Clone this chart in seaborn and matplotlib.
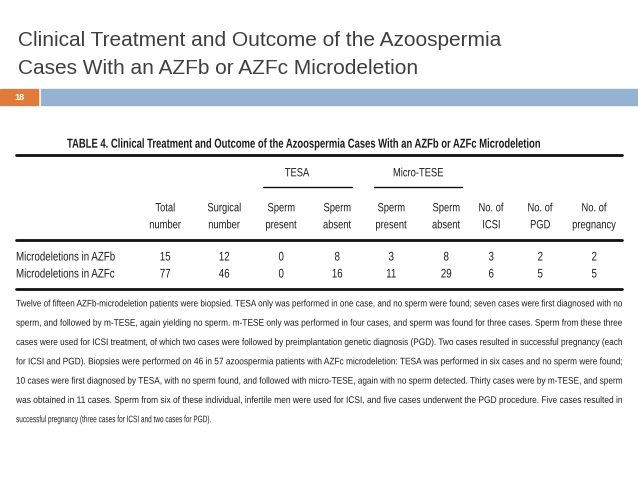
import matplotlib
matplotlib.use('Agg')
import matplotlib.pyplot as plt
import seaborn as sns
from matplotlib.patches import Rectangle, PathPatch
from matplotlib.textpath import TextPath
from matplotlib.font_manager import FontProperties
from matplotlib.transforms import Affine2D

sns.set_theme(style="white")
plt.rcParams['font.family'] = ['Liberation Sans', 'DejaVu Sans']

slide_title = ["Clinical Treatment and Outcome of the Azoospermia",
               "Cases With an AZFb or AZFc Microdeletion"]
table_caption = "TABLE 4. Clinical Treatment and Outcome of the Azoospermia Cases With an AZFb or AZFc Microdeletion"
col_headers = [("Total", "number"), ("Surgical", "number"), ("Sperm", "present"), ("Sperm", "absent"),
               ("Sperm", "present"), ("Sperm", "absent"), ("No. of", "ICSI"), ("No. of", "PGD"),
               ("No. of", "pregnancy")]
row_labels = ["Microdeletions in AZFb", "Microdeletions in AZFc"]
azfb = [15, 12, 0, 8, 3, 8, 3, 2, 2]
azfc = [77, 46, 0, 16, 11, 29, 6, 5, 5]
footnote = [
    "Twelve of fifteen AZFb-microdeletion patients were biopsied. TESA only was performed in one case, and no sperm were found; seven cases were first diagnosed with no",
    "sperm, and followed by m-TESE, again yielding no sperm. m-TESE only was performed in four cases, and sperm was found for three cases. Sperm from these three",
    "cases were used for ICSI treatment, of which two cases were followed by preimplantation genetic diagnosis (PGD). Two cases resulted in successful pregnancy (each",
    "for ICSI and PGD). Biopsies were performed on 46 in 57 azoospermia patients with AZFc microdeletion: TESA was performed in six cases and no sperm were found;",
    "10 cases were first diagnosed by TESA, with no sperm found, and followed with micro-TESE, again with no sperm detected. Thirty cases were by m-TESE, and sperm",
    "was obtained in 11 cases. Sperm from six of these individual, infertile men were used for ICSI, and five cases underwent the PGD procedure. Five cases resulted in",
    "successful pregnancy (three cases for ICSI and two cases for PGD).",
]

col_x = [165, 224, 281, 337, 391, 446, 491, 540, 594]
INK = '#1e1e1e'

fig = plt.figure(figsize=(6.38, 4.78), dpi=100)
ax = fig.add_axes([0, 0, 1, 1])
ax.set_xlim(0, 638)
ax.set_ylim(478, 0)
ax.axis('off')


def narrow(x, y, s, size, xscale=0.78, width=None, ha='left', weight='normal'):
    # condensed text drawn as a path, y is the vertical centre in pixels
    tp = TextPath((0, 0), s, size=size, prop=FontProperties(family='Liberation Sans', weight=weight))
    w = tp.get_extents().x1
    sx = width / w if width else xscale
    if ha == 'center':
        x = x - w * sx / 2
    tr = Affine2D().scale(sx, -1).translate(x, y + size * 0.36)
    ax.add_patch(PathPatch(tr.transform_path(tp), color=INK, lw=0))


# slide header
for i, line in enumerate(slide_title):
    ax.text(18, 40 + i * 28, line, fontsize=15, color='#3f3f3f', va='center')
ax.add_patch(Rectangle((0, 89), 38, 16, color='#e07b39'))
ax.add_patch(Rectangle((41, 89), 597, 16, color='#94b3d3'))
ax.text(19, 97, "18", color='white', fontsize=6.5, fontweight='bold', ha='center', va='center')

# table
narrow(67, 143, table_caption, 13, width=473, weight='bold')
ax.plot([16, 622], [155, 155], color='#111', lw=2)
narrow(297, 172, "TESA", 12, ha='center')
ax.plot([263, 352], [187, 187], color='#111', lw=1)
narrow(418, 172, "Micro-TESE", 12, ha='center')
ax.plot([374, 462], [187, 187], color='#111', lw=1)
for x, (a, b) in zip(col_x, col_headers):
    narrow(x, 207, a, 12, ha='center')
    narrow(x, 224, b, 12, ha='center')
ax.plot([16, 622], [240, 240], color='#111', lw=2)
for y, label, vals in zip([256, 273], row_labels, [azfb, azfc]):
    narrow(16, y, label, 12.5)
    for x, v in zip(col_x, vals):
        narrow(x, y, str(v), 12.5, ha='center')
ax.plot([16, 622], [289, 289], color='#111', lw=2)

for i, line in enumerate(footnote):
    if i < len(footnote) - 1:
        narrow(16, 303 + i * 19.3, line, 9.5, width=606)
    else:
        narrow(16, 303 + i * 19.3, line, 9.5, xscale=0.68)

fig.savefig('out.png', dpi=100)
